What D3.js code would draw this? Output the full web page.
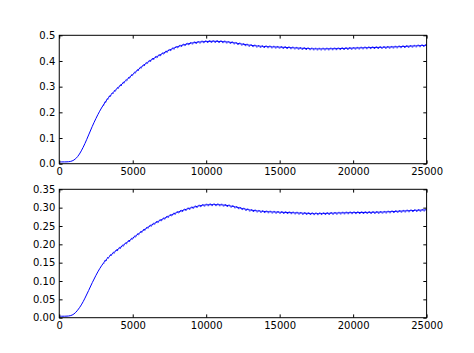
<!DOCTYPE html>
<meta charset="utf-8">
<script src="https://d3js.org/d3.v7.min.js"></script>
<style>
body { margin: 0; background: #fff; }
text { font-family: "DejaVu Sans", sans-serif; font-size: 10px; fill: #000; }
.frame { fill: none; stroke: #000; stroke-width: 1; }
.tick line { stroke: #000; }
.line { fill: none; stroke: #0000ff; stroke-width: 1; }
.ripple { fill: none; stroke: #2a2aff; stroke-width: 1; stroke-dasharray: 1.6,2.2; }
</style>
<body>
<svg id="fig" width="474" height="353"></svg>
<script>

// sample positions
var steps = [0, 500, 750, 1000, 1250, 1500, 1750, 2000, 2250, 2500, 2750, 3000, 3250, 3500,
  4000, 4500, 5000, 5500, 6000, 6500, 7000, 7500, 8000, 8500, 9000, 9500, 10000, 10500,
  11000, 11500, 12000, 12500, 13000, 13500, 14000, 15000, 16000, 17000, 17500, 18000,
  19000, 20000, 21000, 22000, 23000, 24000, 25000];

var topVals = [0.007, 0.007, 0.008, 0.013, 0.026, 0.049, 0.078, 0.112, 0.146, 0.177, 0.205,
  0.229, 0.250, 0.268, 0.297, 0.322, 0.348, 0.373, 0.395, 0.413, 0.428, 0.443, 0.455, 0.464,
  0.470, 0.474, 0.476, 0.477, 0.476, 0.474, 0.470, 0.465, 0.461, 0.458, 0.456, 0.454, 0.451,
  0.448, 0.447, 0.447, 0.448, 0.450, 0.452, 0.453, 0.455, 0.458, 0.461];

var bottomVals = [0.004, 0.004, 0.005, 0.009, 0.020, 0.034, 0.053, 0.074, 0.096, 0.116, 0.134,
  0.149, 0.161, 0.171, 0.187, 0.202, 0.217, 0.232, 0.246, 0.258, 0.268, 0.278, 0.287, 0.294,
  0.300, 0.305, 0.308, 0.3085, 0.308, 0.306, 0.302, 0.297, 0.293, 0.291, 0.289, 0.2875, 0.286,
  0.284, 0.2835, 0.284, 0.2855, 0.2865, 0.287, 0.2875, 0.290, 0.292, 0.294];

var xTicks = [0, 5000, 10000, 15000, 20000, 25000];
var topTicks = [0.0, 0.1, 0.2, 0.3, 0.4, 0.5];
var bottomTicks = [0.00, 0.05, 0.10, 0.15, 0.20, 0.25, 0.30, 0.35];

var svg = d3.select("#fig"),
    left = 59.25, right = 426.6,
    tick = 3.3;

var x = d3.scaleLinear().domain([0, 25000]).range([left, right]);

function panel(vals, yTicks, ymax, fmt, top, bottom) {
  var y = d3.scaleLinear().domain([0, ymax]).range([bottom, top]);
  var g = svg.append("g");

  var line = d3.line()
      .x(function(d) { return x(d[0]); })
      .y(function(d) { return y(d[1]); })
      .curve(d3.curveBasis);
  var pts = steps.map(function(s, i) { return [s, vals[i]]; });

  g.append("path").attr("class", "line").attr("d", line(pts));
  // the wiggle after ~3000
  var rip = pts.filter(function(d) { return d[0] >= 3000; });
  g.append("path").attr("class", "ripple")
      .attr("transform", "translate(0,1)")
      .attr("d", line(rip));
  g.append("path").attr("class", "ripple")
      .attr("transform", "translate(0,-0.6)")
      .style("stroke-dashoffset", 1.9)
      .attr("d", line(rip));

  g.append("g")
      .attr("transform", "translate(0," + bottom + ")")
      .call(d3.axisBottom(x).tickValues(xTicks).tickSize(-tick).tickSizeOuter(0).tickPadding(4).tickFormat(d3.format("d")))
      .call(function(a) { a.select(".domain").remove(); });
  g.append("g")
      .attr("transform", "translate(0," + top + ")")
      .call(d3.axisTop(x).tickValues(xTicks).tickSize(-tick).tickSizeOuter(0).tickFormat(""))
      .call(function(a) { a.select(".domain").remove(); });
  g.append("g")
      .attr("transform", "translate(" + left + ",0)")
      .call(d3.axisLeft(y).tickValues(yTicks).tickSize(-tick).tickSizeOuter(0).tickPadding(4).tickFormat(d3.format(fmt)))
      .call(function(a) { a.select(".domain").remove(); });
  g.append("g")
      .attr("transform", "translate(" + right + ",0)")
      .call(d3.axisRight(y).tickValues(yTicks).tickSize(-tick).tickSizeOuter(0).tickFormat(""))
      .call(function(a) { a.select(".domain").remove(); });

  g.selectAll("text").attr("font-size", null).attr("font-family", null);

  g.append("rect").attr("class", "frame")
      .attr("x", left).attr("y", top)
      .attr("width", right - left).attr("height", bottom - top);
}

panel(topVals, topTicks, 0.5, ".1f", 35.3, 163.7);
panel(bottomVals, bottomTicks, 0.35, ".2f", 189.3, 317.7);

</script>
</body>
